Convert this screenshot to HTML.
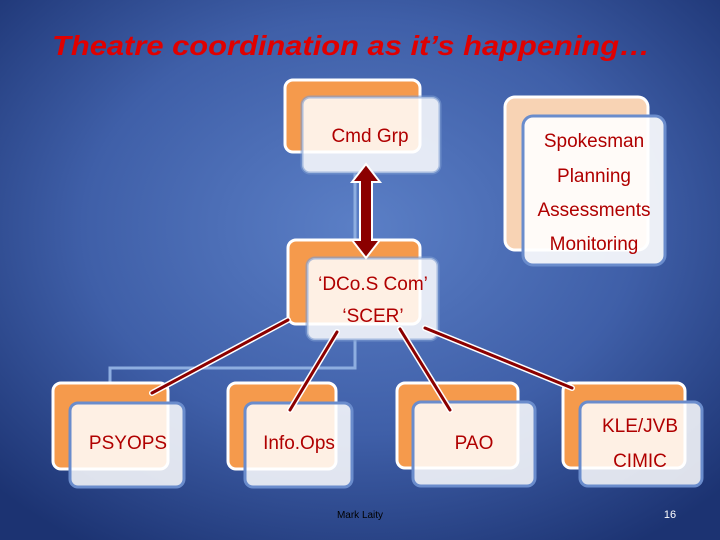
<!DOCTYPE html>
<html><head><style>
html,body{margin:0;padding:0;width:720px;height:540px;overflow:hidden}
svg{display:block}
text{font-family:"Liberation Sans",sans-serif;fill:#c00000}
</style></head><body>
<svg width="720" height="540" viewBox="0 0 720 540" xmlns="http://www.w3.org/2000/svg">
<defs>
<radialGradient id="bg" cx="50%" cy="42%" r="70%">
<stop offset="0" stop-color="#5b7fc6"/>
<stop offset="0.55" stop-color="#3f5fa8"/>
<stop offset="1" stop-color="#1c3372"/>
</radialGradient>
</defs>
<rect width="720" height="540" fill="url(#bg)"/>
<text x="52" y="55" textLength="598" lengthAdjust="spacingAndGlyphs" font-size="28" font-style="italic" font-weight="bold" style="fill:#e00000">Theatre coordination as it’s happening…</text>

<path d="M110 385 V368 H355 V340" fill="none" stroke="#8eaee0" stroke-width="3"/>
<path d="M355 172 V258" fill="none" stroke="#8eaee0" stroke-width="3"/>

<g stroke="#fff" stroke-width="3">
<rect x="285" y="80" width="135" height="72" rx="8" fill="#f59a4c"/>
<rect x="302" y="97" width="138" height="76" rx="8" fill="#fff" fill-opacity="0.85" stroke="#7b9bd0" stroke-opacity="0.6"/>
<rect x="505" y="97" width="143" height="153" rx="10" fill="#f8d3b4"/>
<rect x="523" y="116" width="142" height="149" rx="10" fill="#fff" fill-opacity="0.9" stroke="#6a8ccc"/>
<rect x="288" y="240" width="132" height="84" rx="8" fill="#f59a4c"/>
<rect x="307" y="258" width="131" height="82" rx="8" fill="#fff" fill-opacity="0.85" stroke="#7b9bd0" stroke-opacity="0.6"/>
<rect x="53" y="383" width="115" height="86" rx="8" fill="#f59a4c"/>
<rect x="70" y="403" width="114" height="84" rx="8" fill="#fff" fill-opacity="0.85" stroke="#6a8ccc"/>
<rect x="228" y="383" width="108" height="86" rx="8" fill="#f59a4c"/>
<rect x="245" y="403" width="107" height="84" rx="8" fill="#fff" fill-opacity="0.85" stroke="#6a8ccc"/>
<rect x="397" y="383" width="121" height="85" rx="8" fill="#f59a4c"/>
<rect x="413" y="402" width="122" height="84" rx="8" fill="#fff" fill-opacity="0.85" stroke="#6a8ccc"/>
<rect x="563" y="383" width="122" height="85" rx="8" fill="#f59a4c"/>
<rect x="580" y="402" width="122" height="84" rx="8" fill="#fff" fill-opacity="0.85" stroke="#6a8ccc"/>
</g>

<g stroke-linecap="round">
<g stroke="#fff" stroke-width="6">
<line x1="288" y1="320" x2="152" y2="393"/>
<line x1="337" y1="332" x2="290" y2="410"/>
<line x1="400" y1="329" x2="450" y2="410"/>
<line x1="425" y1="328" x2="572" y2="388"/>
</g>
<g stroke="#8b0000" stroke-width="3">
<line x1="288" y1="320" x2="152" y2="393"/>
<line x1="337" y1="332" x2="290" y2="410"/>
<line x1="400" y1="329" x2="450" y2="410"/>
<line x1="425" y1="328" x2="572" y2="388"/>
</g>
</g>
<path d="M366 164 L380 182 L372 182 L372 240 L380 240 L366 258 L352 240 L360 240 L360 182 L352 182 Z" fill="#8b0000" stroke="#fff" stroke-width="2"/>

<g font-size="19" text-anchor="middle" style="fill:#b00000">
<text x="370" y="142" style="fill:#b00000">Cmd Grp</text>
<text x="594" y="147" style="fill:#b00000">Spokesman</text>
<text x="594" y="182" style="fill:#b00000">Planning</text>
<text x="594" y="216" style="fill:#b00000">Assessments</text>
<text x="594" y="250" style="fill:#b00000">Monitoring</text>
<text x="373" y="290" style="fill:#b00000">‘DCo.S Com’</text>
<text x="373" y="322" style="fill:#b00000">‘SCER’</text>
<text x="128" y="449" style="fill:#b00000">PSYOPS</text>
<text x="299" y="449" style="fill:#b00000">Info.Ops</text>
<text x="474" y="449" style="fill:#b00000">PAO</text>
<text x="640" y="432" style="fill:#b00000">KLE/JVB</text>
<text x="640" y="467" style="fill:#b00000">CIMIC</text>
</g>
<text x="360" y="518" font-size="10" text-anchor="middle" style="fill:#000">Mark Laity</text>
<text x="670" y="518" font-size="11" text-anchor="middle" style="fill:#fff">16</text>
</svg>
</body></html>
